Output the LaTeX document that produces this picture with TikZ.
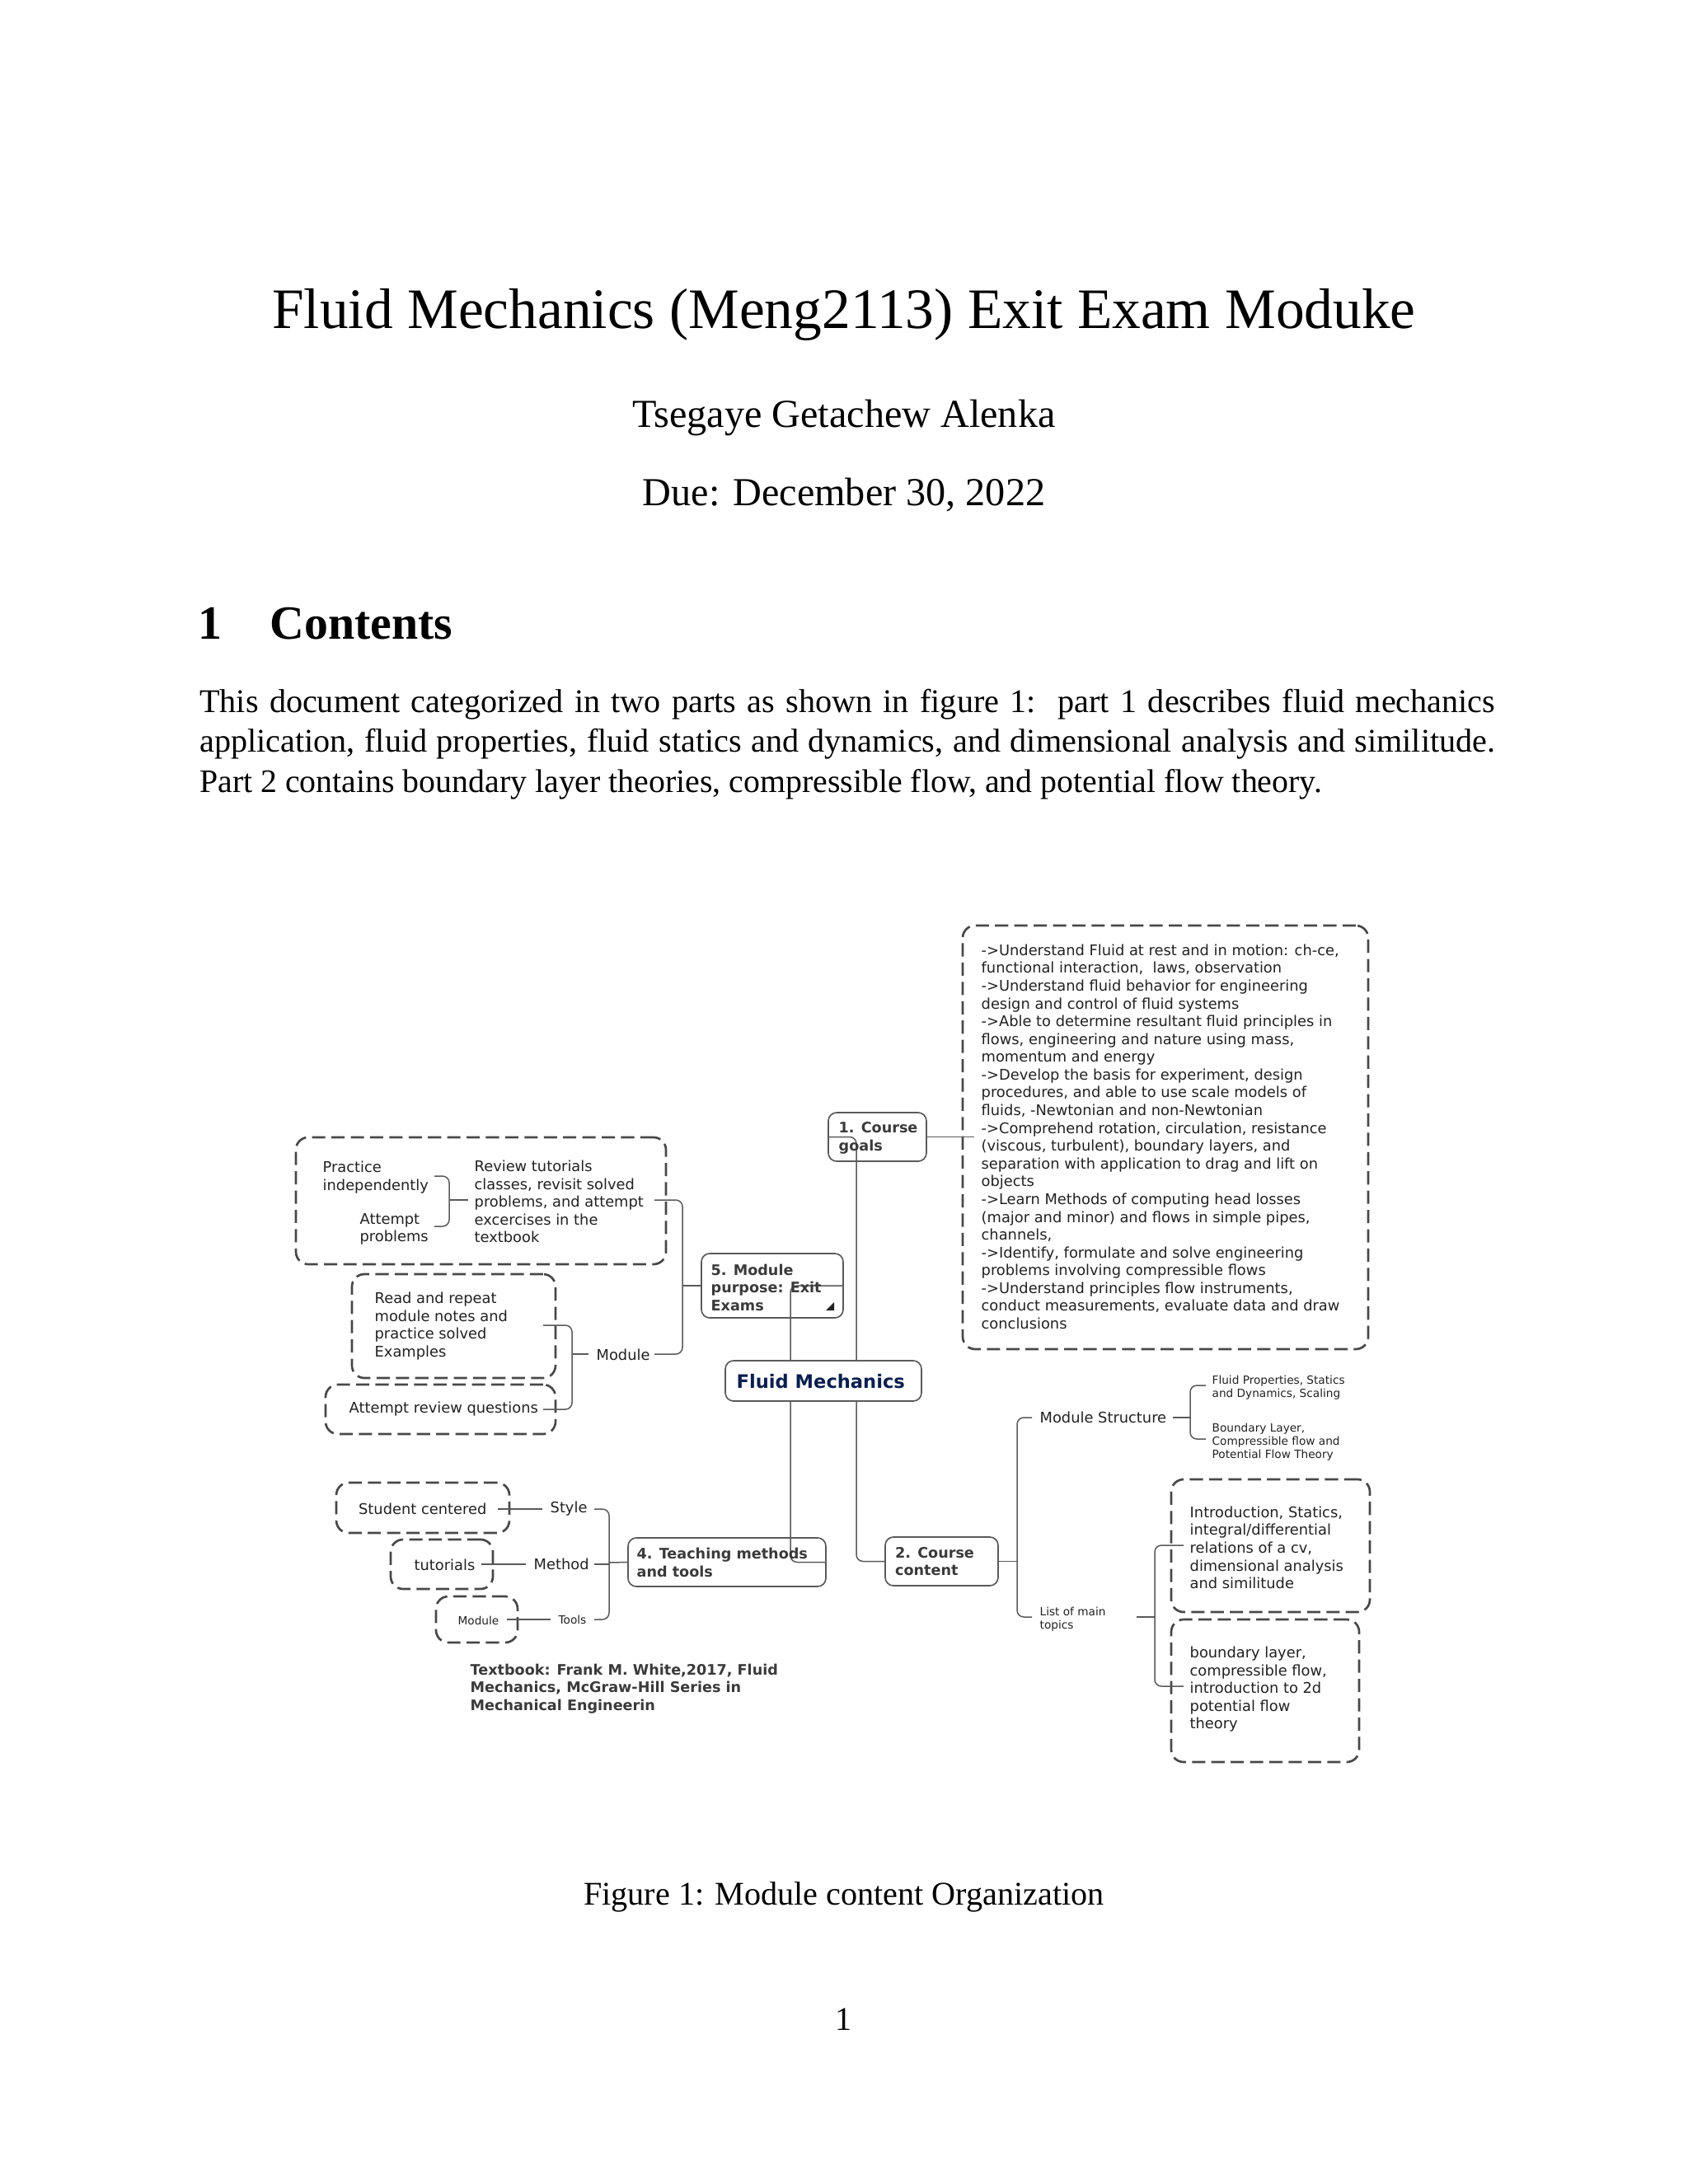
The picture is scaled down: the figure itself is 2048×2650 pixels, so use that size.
\documentclass[tikz,border=0pt]{standalone}
\usepackage{fontspec}
\setmainfont{Liberation Serif}
\newfontfamily\djfont{DejaVu Sans}
\usetikzlibrary{fit}
\definecolor{lgray}{HTML}{5A5A5A}
\definecolor{dgray}{HTML}{484848}
\definecolor{tgray}{HTML}{222222}
\definecolor{bgray}{HTML}{3A3A3A}
\definecolor{navy}{HTML}{0B1F4F}
\begin{document}
\begin{tikzpicture}[x=0.29883pt, y=-0.29883pt,
  conn/.style={draw=lgray, line width=0.45pt, rounded corners=2.4pt},
  sbox/.style={draw=lgray, line width=0.5pt, rounded corners=3pt, inner sep=0pt},
  dbox/.style={draw=dgray, line width=0.8pt, rounded corners=4.5pt, dash pattern=on 4.8pt off 2.2pt, inner sep=0pt},
  txt/.style={inner sep=0pt, align=left, text=tgray, font=\djfont\fontsize{5.33pt}{6.45pt}\selectfont},
  btxt/.style={txt, text=bgray, font=\djfont\bfseries\fontsize{5.26pt}{6.45pt}\selectfont},
  stxt/.style={txt, font=\djfont\fontsize{4.08pt}{4.87pt}\selectfont},
  ptxt/.style={inner sep=0pt, text=black},
]
\fill[white] (0,0) rectangle (2048,2650);
\useasboundingbox (0,0) rectangle (2048,2650);

% ---------- page text ----------
\node[ptxt, anchor=base, font=\fontsize{20.74pt}{25pt}\selectfont] (title) at (1024,398) {Fluid Mechanics (Meng2113) Exit Exam Moduke};
\node[ptxt, anchor=base, font=\fontsize{14.4pt}{17pt}\selectfont] (author) at (1024,518) {Tsegaye Getachew Alenka};
\node[ptxt, anchor=base, font=\fontsize{14.4pt}{17pt}\selectfont] (date) at (1024,613) {Due: December 30, 2022};
\node[ptxt, anchor=base west, font=\bfseries\fontsize{17.28pt}{21pt}\selectfont] (sec) at (240,775) {1\hspace{1em}Contents};
\node[ptxt, anchor=base west, font=\fontsize{12pt}{14.5pt}\selectfont] (l1) at (241.6,864) {\makebox[6.5in][s]{This document categorized in two parts as shown in figure 1:\ \ part 1 describes fluid mechanics}};
\node[ptxt, anchor=base west, font=\fontsize{12pt}{14.5pt}\selectfont] (l2) at (241.6,912.5) {\makebox[6.5in][s]{application, fluid properties, fluid statics and dynamics, and dimensional analysis and similitude.}};
\node[ptxt, anchor=base west, font=\fontsize{11.9pt}{14.5pt}\selectfont] (l3) at (241.6,961) {Part 2 contains boundary layer theories, compressible flow, and potential flow theory.};
\node[ptxt, anchor=base, font=\fontsize{12pt}{14.5pt}\selectfont] (cap) at (1024,2311) {Figure 1: Module content Organization};
\node[ptxt, anchor=base, font=\fontsize{12pt}{14.5pt}\selectfont] (pnum) at (1024,2463) {1};

% ---------- helper coordinates ----------
\coordinate (xl) at (959,0);
\coordinate (xr) at (1039,0);

% ---------- solid boxes ----------
\node[sbox, fit={(880,1651)(1118,1700)}] (fm) {};
\node[sbox, fit={(1005,1350)(1124,1409)}] (b1) {};
\node[sbox, fit={(851,1521)(1023,1599)}] (b5) {};
\node[sbox, fit={(762,1866)(1002,1925)}] (b4) {};
\node[sbox, fit={(1074,1865)(1211,1924)}] (b2) {};

% ---------- dashed boundaries ----------
\node[dbox, fit={(359,1380)(808,1534)}] (dreview) {};
\node[dbox, fit={(427,1546)(674,1672)}] (dread) {};
\node[dbox, fit={(395,1680)(674,1740)}] (dattempt) {};
\node[dbox, fit={(1168,1123)(1660,1637)}] (dgoals) {};
\node[dbox, fit={(408,1799)(618,1860)}] (dstudent) {};
\node[dbox, fit={(474,1868)(598,1928)}] (dtut) {};
\node[dbox, fit={(529,1937)(628,1993)}] (dmod) {};
\node[dbox, fit={(1421,1795)(1662,1956)}] (dintro) {};
\node[dbox, fit={(1421,1965)(1649,2138)}] (dbl) {};

% ---------- connectors ----------
\draw[conn] (xr |- fm.north) |- (b1.west);
\draw[conn] (xl |- fm.north) |- (b5.east);
\draw[conn] (xl |- fm.south) |- (b4.east);
\draw[conn] (xr |- fm.south) |- (b2.west);
\coordinate (g1) at (1182,1379.5);
\draw[conn] (b1.east) -- (g1);

% 5. Module purpose
\coordinate (j5) at (828,1560);
\draw[conn] (b5.west) -- (j5);
\draw[conn] (794,1456) -- (828,1456) -- (828,1643) -- (794,1643);
% Review tutorials
\draw[conn] (568,1456) -- (545,1456);
\draw[conn] (527,1427) -- (545,1427) -- (545,1488) -- (527,1488);
% Module
\draw[conn] (714,1643) -- (694,1643);
\draw[conn] (659,1608) -- (694,1608) -- (694,1710) -- (659,1710);

% 4. Teaching
\coordinate (j4) at (739,1896);
\draw[conn] (b4.west) -- (j4);
\draw[conn] (721,1831) -- (739,1831) -- (739,1965) -- (721,1965);
\draw[conn] (739,1898) -- (721,1898);
\draw[conn] (658,1831) -- (604,1831);
\draw[conn] (638,1898) -- (584,1898);
\draw[conn] (668,1965) -- (615,1965);

% 2. Course content
\coordinate (j2) at (1234,1894.5);
\draw[conn] (b2.east) -- (j2);
\draw[conn] (1252,1720) -- (1234,1720) -- (1234,1962) -- (1252,1962);
\draw[conn] (1423,1720) -- (1444,1720);
\draw[conn] (1463,1681) -- (1444,1681) -- (1444,1746) -- (1463,1746);
\draw[conn] (1379,1962) -- (1401,1962);
\draw[conn] (1436,1875) -- (1401,1875) -- (1401,2046) -- (1436,2046);

% ---------- box texts ----------
\node[txt, anchor=west, text=navy, font=\djfont\bfseries\fontsize{6.75pt}{8pt}\selectfont] (fmt) at (893,1676) {Fluid Mechanics};
\node[btxt, anchor=north west] (b1t) at (1017,1361) {1. Course\\goals};
\node[btxt, anchor=north west] (b5t) at (862,1533) {5. Module\\purpose: Exit\\Exams};
\fill[tgray] (1002,1590) -- (1012,1590) -- (1012,1580) -- cycle;
\node[btxt, anchor=north west] (b4t) at (772,1877.4) {4. Teaching methods\\and tools};
\node[btxt, anchor=north west] (b2t) at (1085.5,1876.4) {2. Course\\content};

% ---------- topic texts ----------
\node[txt, anchor=north west] (practice) at (391,1408.4) {Practice\\independently};
\node[txt, anchor=north west] (attprob) at (436,1471.4) {Attempt\\problems};
\node[txt, anchor=north west] (review) at (575,1407.4) {Review tutorials\\classes, revisit solved\\problems, and attempt\\excercises in the\\textbook};
\node[txt, anchor=north west] (readrep) at (454,1567.4) {Read and repeat\\module notes and\\practice solved\\Examples};
\node[txt, anchor=west] (attrev) at (423,1710) {Attempt review questions};
\node[txt, anchor=west] (module) at (723,1643.6) {Module};

\node[txt, anchor=north west] (goals) at (1190,1145) {->Understand Fluid at rest and in motion: ch-ce,\\
functional interaction,~ laws, observation\\
->Understand fluid behavior for engineering\\
design and control of fluid systems\\
->Able to determine resultant fluid principles in\\
flows, engineering and nature using mass,\\
momentum and energy\\
->Develop the basis for experiment, design\\
procedures, and able to use scale models of\\
fluids, -Newtonian and non-Newtonian\\
->Comprehend rotation, circulation, resistance\\
(viscous, turbulent), boundary layers, and\\
separation with application to drag and lift on\\
objects\\
->Learn Methods of computing head losses\\
(major and minor) and flows in simple pipes,\\
channels,\\
->Identify, formulate and solve engineering\\
problems involving compressible flows\\
->Understand principles flow instruments,\\
conduct measurements, evaluate data and draw\\
conclusions};

\node[txt, anchor=west] (student) at (434.5,1830.7) {Student centered};
\node[txt, anchor=west] (style) at (667,1830.7) {Style};
\node[txt, anchor=west] (tut) at (502,1899) {tutorials};
\node[txt, anchor=west] (method) at (647,1898) {Method};
\node[stxt, anchor=west] (modsm) at (555,1966) {Module};
\node[stxt, anchor=west] (tools) at (677,1965) {Tools};
\node[btxt, anchor=north west] (textbook) at (570,2018) {Textbook: Frank M. White,2017, Fluid\\Mechanics, McGraw-Hill Series in\\Mechanical Engineerin};

\node[txt, anchor=west] (modstruct) at (1261,1719.5) {Module Structure};
\node[stxt, anchor=north west] (listmain) at (1261,1949) {List of main\\topics};
\node[stxt, anchor=north west] (fprop) at (1470,1668) {Fluid Properties, Statics\\and Dynamics, Scaling};
\node[stxt, anchor=north west] (blayer) at (1470,1726) {Boundary Layer,\\Compressible flow and\\Potential Flow Theory};
\node[txt, anchor=north west] (intro) at (1443,1827) {Introduction, Statics,\\integral/differential\\relations of a cv,\\dimensional analysis\\and similitude};
\node[txt, anchor=north west] (bl) at (1443,1997.4) {boundary layer,\\compressible flow,\\introduction to 2d\\potential flow\\theory};
\end{tikzpicture}
\end{document}
